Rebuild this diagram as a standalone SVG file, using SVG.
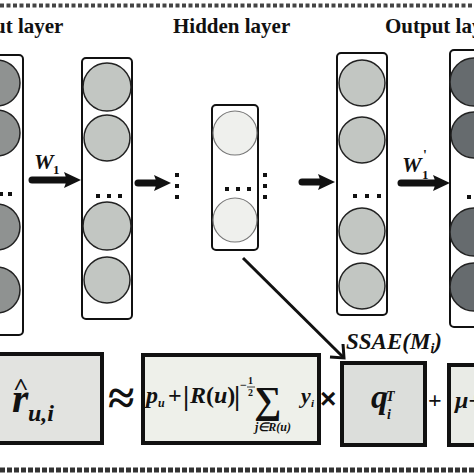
<svg xmlns="http://www.w3.org/2000/svg" width="474" height="474" viewBox="0 0 474 474">
<style>
.col{fill:#fff;stroke:#111;stroke-width:2}
.c1{fill:#8f9291;stroke:#222;stroke-width:1.5}
.c2{fill:#c2c6c2;stroke:#222;stroke-width:1.5}
.c3{fill:#eff0ed;stroke:#777;stroke-width:1.2}
.c4{fill:#666b6e;stroke:#222;stroke-width:1.5}
.dot{fill:#111}
.lbl{font-family:"Liberation Serif",serif;font-weight:bold;font-size:21px;fill:#111}
.m{font-family:"Liberation Serif",serif;font-weight:bold;font-style:italic;fill:#111}
.r{font-family:"Liberation Serif",serif;font-weight:bold;fill:#111}
.box{stroke:#111;stroke-width:4}
.arr{stroke:#111;stroke-width:7;stroke-linecap:round;fill:none}
</style>
<line x1="0" y1="5.5" x2="474" y2="5.5" stroke="#444" stroke-width="4" stroke-dasharray="4 2.5"/>
<line x1="0" y1="470" x2="474" y2="470" stroke="#333" stroke-width="5" stroke-dasharray="5 2"/>
<text class="lbl" x="-6" y="33">ut layer</text>
<text class="lbl" x="173" y="33">Hidden layer</text>
<text class="lbl" x="385" y="33">Output layer</text>
<g id="input-layer">
<rect class="col" x="-10" y="55" width="33" height="280" rx="4"/>
<circle class="c1" cx="-3" cy="83" r="23"/>
<circle class="c1" cx="-3" cy="133" r="23"/>
<circle class="c1" cx="-3" cy="227" r="23"/>
<circle class="c1" cx="-3" cy="290" r="23"/>
<rect class="dot" x="-1" y="192" width="4" height="4"/>
<rect class="dot" x="8" y="192" width="4" height="4"/>
</g>
<g id="layer2">
<rect class="col" x="82" y="58" width="50" height="261" rx="4"/>
<circle class="c2" cx="107" cy="87" r="24"/>
<circle class="c2" cx="107" cy="138" r="23"/>
<circle class="c2" cx="107" cy="226" r="24"/>
<circle class="c2" cx="107" cy="280" r="23"/>
<rect class="dot" x="96" y="194" width="4" height="4"/>
<rect class="dot" x="107" y="194" width="4" height="4"/>
<rect class="dot" x="118" y="194" width="4" height="4"/>
</g>
<g id="hidden-layer">
<rect class="col" x="212" y="105" width="46" height="145" rx="4"/>
<circle class="c3" cx="235" cy="133" r="22"/>
<circle class="c3" cx="235" cy="220" r="22"/>
<rect class="dot" x="225" y="187" width="4" height="4"/>
<rect class="dot" x="236" y="187" width="4" height="4"/>
<rect class="dot" x="247" y="187" width="4" height="4"/>
<rect class="dot" x="263" y="173" width="4" height="4"/>
<rect class="dot" x="263" y="184" width="4" height="4"/>
<rect class="dot" x="263" y="195" width="4" height="4"/>
</g>
<g id="layer4">
<rect class="col" x="337" y="53" width="50" height="262" rx="4"/>
<circle class="c2" cx="362" cy="83" r="23"/>
<circle class="c2" cx="362" cy="140" r="23"/>
<circle class="c2" cx="362" cy="231" r="23"/>
<circle class="c2" cx="362" cy="286" r="23"/>
<rect class="dot" x="353" y="194" width="4" height="4"/>
<rect class="dot" x="365" y="194" width="4" height="4"/>
<rect class="dot" x="377" y="194" width="4" height="4"/>
</g>
<g id="output-layer">
<rect class="col" x="450" y="50" width="40" height="277" rx="4"/>
<circle class="c4" cx="474" cy="82" r="24"/>
<circle class="c4" cx="474" cy="135" r="23"/>
<circle class="c4" cx="474" cy="232" r="24"/>
<circle class="c4" cx="474" cy="287" r="24"/>
<rect class="dot" x="467" y="195" width="4" height="4"/>
</g>
<g id="connectors">
<line class="arr" x1="32" y1="180" x2="68" y2="180"/>
<path d="M81 180 L64 172 Q68 180 64 188 Z" fill="#111"/>
<line class="arr" x1="138" y1="183" x2="158" y2="183"/>
<path d="M171 183 L154 175 Q158 183 154 191 Z" fill="#111"/>
<rect class="dot" x="175" y="173" width="4" height="4"/>
<rect class="dot" x="175" y="184" width="4" height="4"/>
<rect class="dot" x="175" y="195" width="4" height="4"/>
<line class="arr" x1="302" y1="182" x2="322" y2="182"/>
<path d="M335 182 L318 174 Q322 182 318 190 Z" fill="#111"/>
<line class="arr" x1="401" y1="183" x2="437" y2="183"/>
<path d="M450 183 L433 175 Q437 183 433 191 Z" fill="#111"/>
<line x1="243" y1="258" x2="343" y2="357" stroke="#111" stroke-width="3"/>
<path d="M330 357 L344 358 L343 344" fill="none" stroke="#111" stroke-width="3"/>
<text class="m" x="34" y="169" font-size="22">W</text>
<text class="r" x="53" y="174" font-size="13">1</text>
<text class="m" x="402" y="172" font-size="22">W</text>
<text class="r" x="422" y="179" font-size="13">1</text>
<text class="r" x="423" y="160" font-size="14">'</text>
</g>
<text class="m" x="346" y="349" font-size="23">SSAE(M<tspan font-size="14" dy="4">i</tspan><tspan dy="-4">)</tspan></text>
<g id="box-r">
<rect class="box" x="-5" y="354" width="107" height="89" fill="#e2e3e0"/>
<text class="m" x="12" y="412" font-size="42">r</text>
<text class="r" x="13" y="394" font-size="30" transform="translate(13 0) scale(0.9 0.8) translate(-13 98)">^</text>
<text class="m" x="28" y="421" font-size="24">u,i</text>
</g>
<text class="r" x="108" y="414" font-size="48">≈</text>
<g id="box-p">
<rect class="box" x="143" y="355" width="176" height="88" fill="#eef0ea"/>
<text class="m" x="146" y="403" font-size="24">p</text>
<text class="m" x="158" y="407" font-size="12">u</text>
<text class="r" x="168" y="403" font-size="24">+</text>
<text class="r" x="183" y="405" font-size="28">|</text>
<text class="m" x="190" y="403" font-size="24">R</text>
<text class="r" x="206" y="403" font-size="24">(<tspan font-style="italic">u</tspan>)</text>
<text class="r" x="234" y="405" font-size="28">|</text>
<text class="r" x="240" y="389" font-size="12">−</text>
<text class="r" x="248" y="384" font-size="10">1</text>
<line x1="247" y1="387" x2="255" y2="387" stroke="#111" stroke-width="0.8"/>
<text class="r" x="248" y="396" font-size="10">2</text>
<text class="r" x="254" y="413" font-size="38">∑</text>
<text class="m" x="255" y="431" font-size="12">j∈R(u)</text>
<text class="m" x="301" y="403" font-size="22">y</text>
<text class="m" x="311" y="407" font-size="11">i</text>
</g>
<text x="320" y="408" font-family="Liberation Sans,sans-serif" font-weight="bold" font-size="28" fill="#111">×</text>
<g id="box-q">
<rect class="box" x="342" y="363" width="83" height="82" fill="#dcdedb"/>
<text class="m" x="371" y="408" font-size="34">q</text>
<text class="m" x="386" y="401" font-size="14">T</text>
<text class="m" x="387" y="419" font-size="14">i</text>
</g>
<text class="r" x="428" y="408" font-size="24">+</text>
<g id="box-mu">
<rect class="box" x="449" y="365" width="40" height="80" fill="#e9ebe6"/>
<text class="m" x="455" y="408" font-size="24">μ+</text>
</g>
</svg>
